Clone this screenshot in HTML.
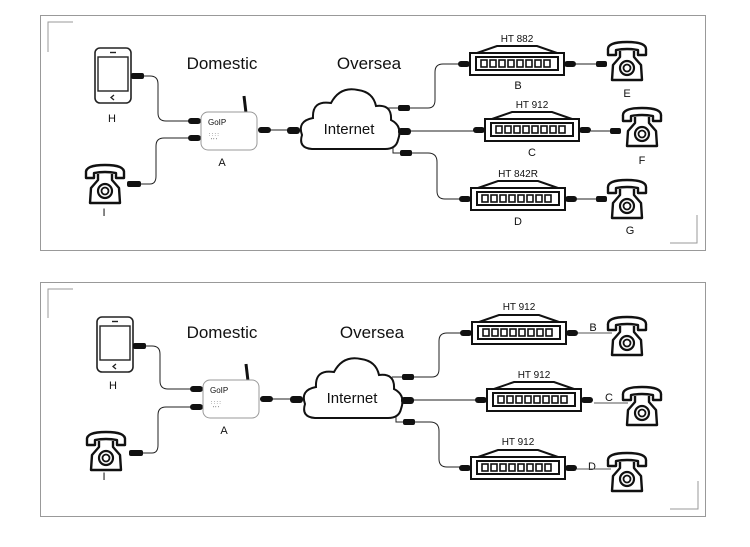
<!DOCTYPE html>
<html><head><meta charset="utf-8"><style>
html,body{margin:0;padding:0;background:#fff}
svg{display:block}
text{font-family:"Liberation Sans",sans-serif;fill:#111}
</style></head><body>
<svg width="750" height="547" viewBox="0 0 750 547" xmlns="http://www.w3.org/2000/svg">
<defs>
<g id="tel">
 <path d="M-19,-12 Q-20,-20 0,-20 Q20,-20 19,-12 L19,-7 L11,-7 L11,-12 Q0,-14 -11,-12 L-11,-7 L-19,-7 Z" fill="#fff" stroke="#111" stroke-width="2.4" stroke-linejoin="round"/>
 <path d="M-7,-11 L-7,-5 L-14,3 L-15,18 L15,18 L14,3 L7,-5 L7,-11" fill="#fff" stroke="#111" stroke-width="2.4" stroke-linejoin="round"/>
 <circle cx="0" cy="6" r="7" fill="#fff" stroke="#111" stroke-width="2.2"/>
 <circle cx="0" cy="6" r="3.5" fill="none" stroke="#111" stroke-width="1.8"/>
</g>
<g id="ata">
 <path d="M-40,-3 L-20,-10 L20,-10 L40,-3 Z" fill="#fff" stroke="#111" stroke-width="2"/>
 <rect x="-47" y="-3" width="94" height="22" fill="#fff" stroke="#111" stroke-width="2"/>
 <rect x="-41" y="1" width="82" height="13" fill="#fff" stroke="#111" stroke-width="2"/>
 <g fill="#fff" stroke="#111" stroke-width="1.6">
  <rect x="-36" y="4" width="6" height="7"/><rect x="-27" y="4" width="6" height="7"/><rect x="-18" y="4" width="6" height="7"/><rect x="-9" y="4" width="6" height="7"/><rect x="0" y="4" width="6" height="7"/><rect x="9" y="4" width="6" height="7"/><rect x="18" y="4" width="6" height="7"/><rect x="27" y="4" width="6" height="7"/>
 </g>
 <rect x="-59" y="5" width="12" height="6" rx="3" fill="#111"/>
 <rect x="47" y="5" width="12" height="6" rx="3" fill="#111"/>
</g>
<g id="mobile">
 <rect x="0" y="0" width="36" height="55" rx="5" fill="#fff" stroke="#222" stroke-width="1.6"/>
 <rect x="3" y="9" width="30" height="34" fill="#fff" stroke="#222" stroke-width="1.4"/>
 <line x1="15" y1="4.5" x2="21" y2="4.5" stroke="#222" stroke-width="1.4"/>
 <path d="M19,47 L16,49.5 L19,52" fill="none" stroke="#222" stroke-width="1.3"/>
</g>
<g id="goip">
 <line x1="43" y1="-16" x2="45" y2="1" stroke="#111" stroke-width="3"/>
 <rect x="0" y="0" width="56" height="38" rx="7" fill="#fff" stroke="#999" stroke-width="1"/>
 <text x="7" y="13" font-size="8">GoIP</text>
 <text x="8" y="24" font-size="5" fill="#aaa">: : : :</text>
 <text x="10" y="30" font-size="5" fill="#aaa">' ' '</text>
</g>
<path id="cloud" d="M312,149 Q298,148 302,135 Q297,121 313,118 Q312,100 331,103 Q340,86 358,90 Q373,92 376,106 Q392,104 391,120 Q403,126 398,140 Q396,149 385,149 Z" fill="#fff" stroke="#111" stroke-width="2"/>
</defs>

<!-- Panel 1 -->
<rect x="40.5" y="15.5" width="665" height="235" fill="none" stroke="#999" stroke-width="1"/>
<path d="M48,52 L48,22 L73,22" fill="none" stroke="#999"/>
<path d="M670,243 L697,243 L697,215" fill="none" stroke="#999"/>

<text x="222" y="69" font-size="17" text-anchor="middle">Domestic</text>
<text x="369" y="69" font-size="17" text-anchor="middle">Oversea</text>

<use href="#mobile" x="95" y="48"/>
<text x="112" y="122" font-size="11" text-anchor="middle">H</text>
<use href="#tel" x="105" y="185"/>
<text x="104" y="216" font-size="11" text-anchor="middle">I</text>

<path d="M131,76 L150,76 Q158,76 158,84 L158,113 Q158,121 166,121 L195,121" fill="none" stroke="#222" stroke-width="1"/>
<rect x="131" y="73" width="13" height="6" rx="2" fill="#111"/>
<path d="M140,184 L150,184 Q156,184 156,176 L156,146 Q156,138 164,138 L195,138" fill="none" stroke="#222" stroke-width="1"/>
<rect x="127" y="181" width="14" height="6" rx="2" fill="#111"/>
<rect x="188" y="118" width="13" height="6" rx="3" fill="#111"/>
<rect x="188" y="135" width="13" height="6" rx="3" fill="#111"/>

<use href="#goip" x="201" y="112"/>
<text x="222" y="166" font-size="11" text-anchor="middle">A</text>

<line x1="258" y1="130" x2="300" y2="130" stroke="#222" stroke-width="1"/>
<rect x="258" y="127" width="13" height="6" rx="3" fill="#111"/>
<rect x="287" y="127" width="13" height="7" rx="3" fill="#111"/>

<use href="#cloud"/>
<text x="349" y="134" font-size="15" text-anchor="middle">Internet</text>

<path d="M388,108 L428,108 Q435,108 435,100 L435,72 Q435,64 443,64 L460,64" fill="none" stroke="#222" stroke-width="1"/>
<rect x="398" y="105" width="12" height="6" rx="2" fill="#111"/>
<line x1="398" y1="131" x2="475" y2="131" stroke="#222" stroke-width="1"/>
<rect x="398" y="128" width="13" height="7" rx="3" fill="#111"/>
<path d="M393,148 L393,153 L428,153 Q437,153 437,162 L437,191 Q437,199 445,199 L460,199" fill="none" stroke="#222" stroke-width="1"/>
<rect x="400" y="150" width="12" height="6" rx="2" fill="#111"/>

<text x="517" y="42" font-size="10" text-anchor="middle">HT 882</text>
<use href="#ata" x="517" y="56"/>
<text x="518" y="89" font-size="11" text-anchor="middle">B</text>
<line x1="576" y1="64" x2="600" y2="64" stroke="#222"/>
<rect x="596" y="61" width="11" height="6" rx="2" fill="#111"/>
<use href="#tel" x="627" y="62"/>
<text x="627" y="97" font-size="11" text-anchor="middle">E</text>

<text x="532" y="108" font-size="10" text-anchor="middle">HT 912</text>
<use href="#ata" x="532" y="122"/>
<text x="532" y="156" font-size="11" text-anchor="middle">C</text>
<line x1="591" y1="131" x2="615" y2="131" stroke="#222"/>
<rect x="610" y="128" width="11" height="6" rx="2" fill="#111"/>
<use href="#tel" x="642" y="128"/>
<text x="642" y="164" font-size="11" text-anchor="middle">F</text>

<text x="518" y="177" font-size="10" text-anchor="middle">HT 842R</text>
<use href="#ata" x="518" y="191"/>
<text x="518" y="225" font-size="11" text-anchor="middle">D</text>
<line x1="577" y1="199" x2="600" y2="199" stroke="#222"/>
<rect x="596" y="196" width="11" height="6" rx="2" fill="#111"/>
<use href="#tel" x="627" y="200"/>
<text x="630" y="234" font-size="11" text-anchor="middle">G</text>

<!-- Panel 2 -->
<rect x="40.5" y="282.5" width="665" height="234" fill="none" stroke="#999" stroke-width="1"/>
<path d="M48,318 L48,289 L73,289" fill="none" stroke="#999"/>
<path d="M670,509 L698,509 L698,481" fill="none" stroke="#999"/>

<text x="222" y="338" font-size="17" text-anchor="middle">Domestic</text>
<text x="372" y="338" font-size="17" text-anchor="middle">Oversea</text>

<use href="#mobile" x="97" y="317"/>
<text x="113" y="389" font-size="11" text-anchor="middle">H</text>
<use href="#tel" x="106" y="452"/>
<text x="104" y="480" font-size="11" text-anchor="middle">I</text>

<path d="M133,346 L152,346 Q160,346 160,354 L160,381 Q160,389 168,389 L197,389" fill="none" stroke="#222" stroke-width="1"/>
<rect x="133" y="343" width="13" height="6" rx="2" fill="#111"/>
<path d="M142,453 L152,453 Q158,453 158,445 L158,415 Q158,407 166,407 L197,407" fill="none" stroke="#222" stroke-width="1"/>
<rect x="129" y="450" width="14" height="6" rx="2" fill="#111"/>
<rect x="190" y="386" width="13" height="6" rx="3" fill="#111"/>
<rect x="190" y="404" width="13" height="6" rx="3" fill="#111"/>

<use href="#goip" x="203" y="380"/>
<text x="224" y="434" font-size="11" text-anchor="middle">A</text>

<line x1="260" y1="399" x2="304" y2="399" stroke="#222" stroke-width="1"/>
<rect x="260" y="396" width="13" height="6" rx="3" fill="#111"/>
<rect x="290" y="396" width="13" height="7" rx="3" fill="#111"/>

<use href="#cloud" x="3" y="269"/>
<text x="352" y="403" font-size="15" text-anchor="middle">Internet</text>

<path d="M392,377 L432,377 Q439,377 439,369 L439,341 Q439,333 447,333 L462,333" fill="none" stroke="#222" stroke-width="1"/>
<rect x="402" y="374" width="12" height="6" rx="2" fill="#111"/>
<line x1="401" y1="400" x2="478" y2="400" stroke="#222" stroke-width="1"/>
<rect x="401" y="397" width="13" height="7" rx="3" fill="#111"/>
<path d="M396,417 L396,422 L430,422 Q439,422 439,431 L439,459 Q439,467 447,467 L462,467" fill="none" stroke="#222" stroke-width="1"/>
<rect x="403" y="419" width="12" height="6" rx="2" fill="#111"/>

<text x="519" y="310" font-size="10" text-anchor="middle">HT 912</text>
<use href="#ata" x="519" y="325"/>
<text x="593" y="331" font-size="11" text-anchor="middle">B</text>
<line x1="578" y1="333" x2="612" y2="333" stroke="#555"/>
<use href="#tel" x="627" y="337"/>

<text x="534" y="378" font-size="10" text-anchor="middle">HT 912</text>
<use href="#ata" x="534" y="392"/>
<text x="609" y="401" font-size="11" text-anchor="middle">C</text>
<line x1="594" y1="403" x2="628" y2="403" stroke="#555"/>
<use href="#tel" x="642" y="407"/>

<text x="518" y="445" font-size="10" text-anchor="middle">HT 912</text>
<use href="#ata" x="518" y="460"/>
<text x="592" y="470" font-size="11" text-anchor="middle">D</text>
<line x1="577" y1="469" x2="611" y2="469" stroke="#555"/>
<use href="#tel" x="627" y="473"/>
</svg>
</body></html>
